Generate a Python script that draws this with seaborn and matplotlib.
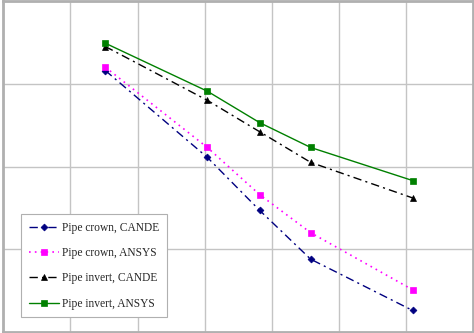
import matplotlib
matplotlib.use("Agg")
import matplotlib.pyplot as plt
import seaborn as sns
import pandas as pd

x_vals = [15.2, 30.4, 38.2, 45.8, 61.0]
crown_cande = [3.16, 2.11, 1.47, 0.88, 0.26]
crown_ansys = [3.20, 2.23, 1.66, 1.20, 0.51]
invert_cande = [3.45, 2.80, 2.42, 2.05, 1.62]
invert_ansys = [3.49, 2.91, 2.53, 2.23, 1.83]
labels = ["Pipe crown, CANDE", "Pipe crown, ANSYS", "Pipe invert, CANDE", "Pipe invert, ANSYS"]

sns.set_theme(style="white")
plt.rcParams['font.family'] = ['Liberation Serif', 'DejaVu Serif']

fig = plt.figure(figsize=(4.74, 3.33), dpi=100)
ax = fig.add_axes([0.007, 0.003, 0.991, 0.994])

series = [crown_cande, crown_ansys, invert_cande, invert_ansys]
styles = [
    dict(color="#000080", linestyle=(0, (6, 3, 1.5, 3)), marker="D", markersize=3.5, linewidth=1.0),
    dict(color="#FF00FF", linestyle=(0, (1, 2.5)), marker="s", markersize=5, linewidth=1.2),
    dict(color="#000000", linestyle=(0, (6, 3, 1.5, 3)), marker="^", markersize=5, linewidth=1.0),
    dict(color="#008000", linestyle="-", marker="s", markersize=5, linewidth=1.0),
]
for vals, lab, st in zip(series, labels, styles):
    df = pd.DataFrame({"x": x_vals, "y": vals})
    sns.lineplot(data=df, x="x", y="y", ax=ax, label=lab,
                 markeredgewidth=0.5, markeredgecolor=st["color"], **st)

ax.set_xlim(0, 70)
ax.set_ylim(0, 4)
ax.set_xticks(range(0, 71, 10))
ax.set_yticks([0, 1, 2, 3, 4])
ax.set_xticklabels([])
ax.set_yticklabels([])
ax.set_xlabel("")
ax.set_ylabel("")
ax.grid(True, color="#c4c4c4", linewidth=1.0)
ax.tick_params(length=0)
for s in ax.spines.values():
    s.set_color("#b0b0b0")
    s.set_linewidth(2.0)

leg = ax.legend(loc="lower left", bbox_to_anchor=(0.038, 0.045), fontsize=8.3,
                frameon=True, fancybox=False, framealpha=1, edgecolor="#b0b0b0",
                handlelength=2.6, handletextpad=0.3, labelspacing=1.15,
                borderpad=0.65, borderaxespad=0)
leg.get_frame().set_linewidth(0.8)

fig.savefig("out.png", dpi=100)
